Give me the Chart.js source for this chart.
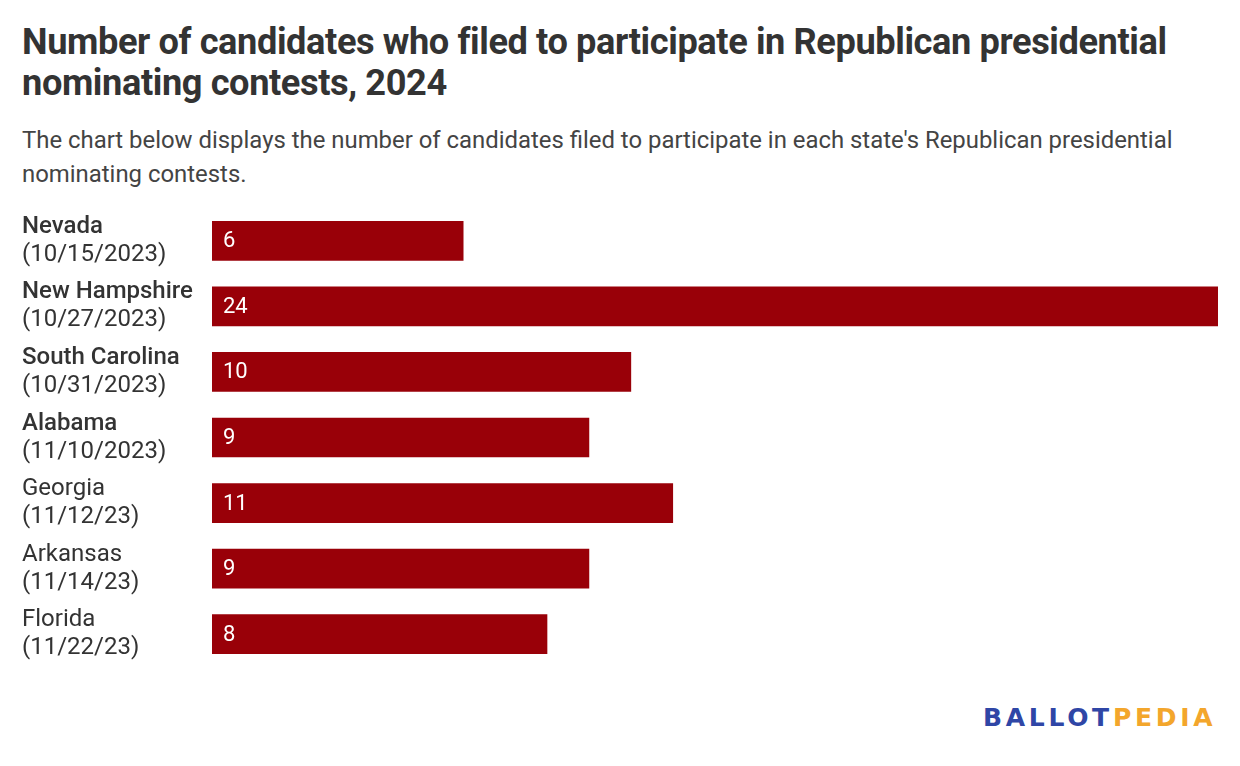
<!doctype html>
<html lang="en">
<head>
  <meta charset="utf-8" />
  <title>Republican presidential nominating contests, 2024</title>
  <script src="https://cdn.jsdelivr.net/npm/chart.js@4/dist/chart.umd.min.js"></script>
  <style>
    html, body { margin: 0; padding: 0; background: #fff; }
    body { width: 1240px; height: 766px; position: relative; overflow: hidden; font-family: Roboto, "Noto Sans", sans-serif; }
    #title { position: absolute; left: 22px; top: 21px; width: 1200px; font-size: 36.2px; line-height: 41px; font-weight: 700; color: #333; letter-spacing: -0.4px; }
    #sub { position: absolute; left: 22px; top: 123px; width: 1200px; font-size: 23.9px; line-height: 34px; color: #444; }
    #wrap { position: absolute; left: 0; top: 200px; width: 1240px; height: 480px; }
    #logo { position: absolute; left: 983px; top: 703px; font-family: "DejaVu Sans", sans-serif; font-weight: 700; font-size: 25px; letter-spacing: 3.7px; line-height: 30px; white-space: nowrap; }
    #logo .a { color: #2f46a6; }
    #logo .b { color: #f3a62c; }
  </style>
</head>
<body>
<div id="title">Number of candidates who filed to participate in Republican presidential nominating contests, 2024</div>
<div id="sub">The chart below displays the number of candidates filed to participate in each state's Republican presidential nominating contests.</div>
<div id="wrap"><canvas id="myChart" width="1240" height="480"></canvas></div>
<div id="logo"><span class="a">BALLOT</span><span class="b">PEDIA</span></div>

<script>
// data
const states = ['Nevada', 'New Hampshire', 'South Carolina', 'Alabama', 'Georgia', 'Arkansas', 'Florida'];
const dates = ['(10/15/2023)', '(10/27/2023)', '(10/31/2023)', '(11/10/2023)', '(11/12/23)', '(11/14/23)', '(11/22/23)'];
const candidates = [6, 24, 10, 9, 11, 9, 8];
</script>

<script>
// first four state names are set in bold in the original
const boldUpTo = 4;

const labelPlugin = {
  id: 'stateLabels',
  afterDatasetsDraw(chart) {
    const ctx = chart.ctx;
    const yScale = chart.scales.y;
    const meta = chart.getDatasetMeta(0);
    ctx.save();
    ctx.textBaseline = 'middle';
    ctx.textAlign = 'left';
    for (let i = 0; i < states.length; i++) {
      const y = yScale.getPixelForValue(i);
      ctx.fillStyle = '#333';
      ctx.font = (i < boldUpTo ? '500 ' : '400 ') + '24px Roboto';
      ctx.fillText(states[i], 22, y - 14);
      ctx.font = '400 24px Roboto';
      ctx.fillText(dates[i], 22, y + 14);

      const bar = meta.data[i];
      ctx.fillStyle = '#fff';
      ctx.font = '400 22px Roboto';
      ctx.fillText(String(candidates[i]), bar.base + 11, bar.y + 1);
    }
    ctx.restore();
  }
};

function Draw() {
  const ctx = document.getElementById('myChart');
  new Chart(ctx, {
    type: 'bar',
    data: {
      labels: states,
      datasets: [{
        label: 'Candidates',
        data: candidates,
        backgroundColor: '#990008',
        borderWidth: 0,
        barPercentage: 0.606,
        categoryPercentage: 1.0
      }]
    },
    options: {
      indexAxis: 'y',
      responsive: false,
      animation: false,
      layout: { padding: { left: 212, right: 22, top: 8, bottom: 13 } },
      plugins: {
        legend: { display: false },
        tooltip: { enabled: false },
        title: { display: false }
      },
      scales: {
        x: { display: false, min: 0, max: 24 },
        y: { display: false }
      }
    },
    plugins: [labelPlugin]
  });
}
Draw();
</script>
</body>
</html>
